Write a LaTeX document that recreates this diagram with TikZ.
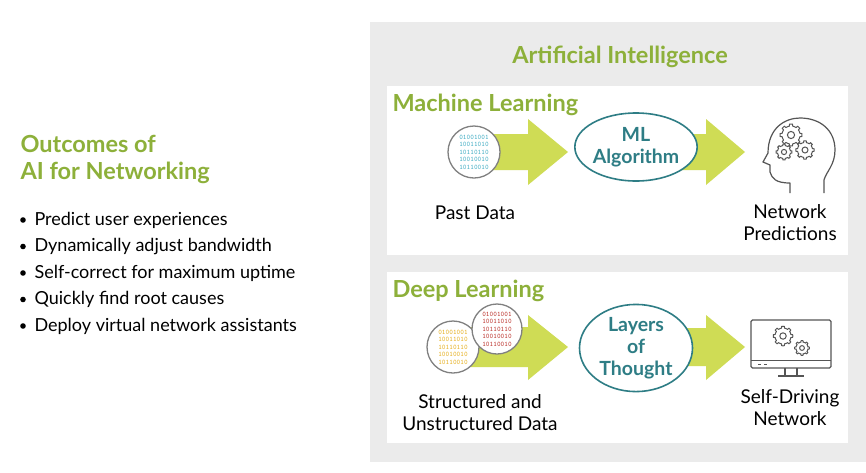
\documentclass[tikz,border=0pt]{standalone}
\usepackage{fontspec}
\setmainfont{Lato}
\usetikzlibrary{shapes.geometric}
\definecolor{aigreen}{HTML}{8DB03A}
\definecolor{arrowgreen}{HTML}{CFDC55}
\definecolor{teal}{HTML}{2E7D85}
\definecolor{panel}{HTML}{EBEBEB}
\definecolor{bitblue}{HTML}{4FB3C8}
\definecolor{bityel}{HTML}{E8B52E}
\definecolor{bitred}{HTML}{C0403A}
\definecolor{icon}{HTML}{555555}
\tikzset{
  title/.style={font=\fontsize{23.5}{27}\selectfont\bfseries, text=aigreen},
  lbl/.style={font=\fontsize{19}{22}\selectfont, align=center, text=black},
  algo/.style={ellipse, draw=teal, line width=1.6pt, fill=white, text=teal, font=\fontsize{19.5}{22}\selectfont\bfseries, align=center, minimum width=113pt, inner sep=0pt},
  datac/.style={circle, draw=gray, line width=1.3pt, fill=white, minimum size=52pt, inner sep=0pt, font=\fontsize{7}{7.5}\selectfont\ttfamily\bfseries, align=center},
  bigarrow/.style={fill=arrowgreen},
  bullet/.style={font=\fontsize{18}{21}\selectfont, anchor=west},
  pics/gear/.style={code={
    \draw[icon, line width=1pt] plot[domain=0:360, samples=97, smooth cycle] (\x:{#1*(1+0.22*(cos(8*\x)>0))});
    \draw[icon, line width=1pt] (0,0) circle (#1*0.4);
  }}
}
\begin{document}
\begin{tikzpicture}[x=1pt,y=-1pt]
\useasboundingbox (0,0) rectangle (866,472);
\fill[panel] (370,22) rectangle (866,462);
\fill[white] (387,86) rectangle (848,255);
\fill[white] (387,272) rectangle (848,443);
\node[title] (ai) at (620,57) {Artificial Intelligence};
\node[title, anchor=west] (ml) at (389,105) {Machine Learning};
\node[title, anchor=west] (dl) at (389,291) {Deep Learning};
\node[title, anchor=north west, align=left] (out) at (17,132) {Outcomes of\\AI for Networking};
\foreach \t [count=\i] in {Predict user experiences, Dynamically adjust bandwidth, Self-correct for maximum uptime, Quickly find root causes, Deploy virtual network assistants}{
  \fill (23,{220+26.5*(\i-1)}) circle (2.8);
  \node[bullet] (b\i) at (31,{220+26.5*(\i-1)}) {\t};
}
% ML row
\fill[bigarrow] (474,134) -- (528,134) -- (528,119) -- (568,152) -- (528,185) -- (528,170) -- (474,170) -- cycle;
\fill[bigarrow] (680,134) -- (706,134) -- (706,119) -- (745,152) -- (706,185) -- (706,170) -- (680,170) -- cycle;
\node[datac, text=bitblue] (pd) at (474,152) {01001001\\10011010\\10110110\\10010010\\10110010};
\node[algo, minimum height=68pt] (mla) at (636,147) {ML\\Algorithm};
\node[lbl] (pdl) at (475,213) {Past Data};
\node[lbl] (npl) at (790,223) {Network\\Predictions};
% head icon
\draw[icon, line width=1.2pt, line join=round] (790,193) -- (790,183) .. controls (775,183) and (772,178) .. (770,172)
  -- (770,165) -- (763,162) -- (768,153) .. controls (768,128) and (785,118) .. (800,118)
  .. controls (820,118) and (835,130) .. (835,150) .. controls (835,165) and (826,172) .. (824,180) -- (824,193);
\pic at (791,135) {gear=9};
\pic at (784,152) {gear=6.5};
\pic at (805,150) {gear=7.5};
% DL row
\fill[bigarrow] (470,327) -- (528,327) -- (528,315) -- (568,347) -- (528,380) -- (528,367) -- (470,367) -- cycle;
\fill[bigarrow] (680,328) -- (706,328) -- (706,315) -- (745,347) -- (706,380) -- (706,366) -- (680,366) -- cycle;
\node[datac, text=bityel] (ud) at (453,347) {01001001\\10011010\\10110110\\10010010\\10110010};
\node[datac, text=bitred, minimum size=50pt] (sd) at (497,329) {01001001\\10011010\\10110110\\10010010\\10110010};
\node[algo, minimum height=74pt] (lot) at (636,348) {Layers\\of\\Thought};
\node[lbl] (sdl) at (480,413) {Structured and\\Unstructured Data};
\node[lbl] (sdn) at (790,408) {Self-Driving\\Network};
% monitor
\draw[icon, line width=1.2pt, rounded corners=1.5pt] (751,320) rectangle (831,368);
\draw[icon, line width=1pt] (751,360) -- (831,360);
\draw[icon, line width=1pt] (758,364) -- (761,364) (764,364) -- (767,364);
\draw[icon, line width=1.2pt] (785,368) -- (785,376) (797,368) -- (797,376) (778,376) -- (804,376);
\pic at (783,336) {gear=8};
\pic at (802,348) {gear=6};
\end{tikzpicture}
\end{document}
